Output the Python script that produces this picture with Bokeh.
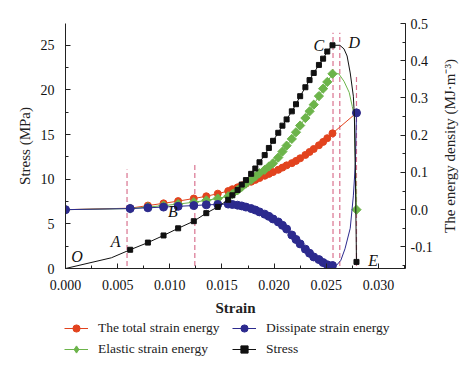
import math
from bokeh.plotting import figure
from bokeh.layouts import column, row
from bokeh.models import (Range1d, LinearAxis, Legend, LegendItem, Title,
                          SingleIntervalTicker, PrintfTickFormatter)
from bokeh.core.properties import value
from bokeh.embed import file_html
from bokeh.resources import INLINE

# ---------------- data ----------------
strain = [0.0062, 0.0079, 0.0094, 0.0108, 0.0123, 0.0135, 0.0146, 0.0156,
          0.0160, 0.0165, 0.0169, 0.0173, 0.0178, 0.0182, 0.0186, 0.0191,
          0.0195, 0.0199, 0.0204, 0.0208, 0.0212, 0.0217, 0.0221, 0.0225,
          0.0230, 0.0234, 0.0238, 0.0243, 0.0247, 0.0251, 0.0256]
stress = [2.1, 2.9, 3.7, 4.5, 5.3, 6.2, 6.9, 7.7,
          8.2, 8.8, 9.4, 9.9, 10.6, 11.2, 11.9, 12.7,
          13.5, 14.3, 15.2, 16.0, 16.7, 17.6, 18.4, 19.3,
          20.3, 21.1, 21.9, 22.8, 23.5, 24.3, 25.0]
total_energy = [0.004, 0.011, 0.017, 0.023, 0.030, 0.036, 0.043, 0.050,
                0.055, 0.060, 0.065, 0.070, 0.075, 0.080, 0.085, 0.091,
                0.096, 0.101, 0.107, 0.113, 0.119, 0.125, 0.131, 0.138,
                0.147, 0.155, 0.163, 0.173, 0.182, 0.192, 0.205]
elastic_energy = [0.003, 0.007, 0.011, 0.015, 0.020, 0.025, 0.030, 0.036,
                  0.042, 0.052, 0.061, 0.070, 0.080, 0.089, 0.098, 0.107,
                  0.116, 0.125, 0.140, 0.156, 0.172, 0.190, 0.208, 0.226,
                  0.246, 0.264, 0.282, 0.305, 0.325, 0.343, 0.365]
dissipated_energy = [0.003, 0.005, 0.007, 0.009, 0.011, 0.013, 0.014, 0.015,
                     0.014, 0.012, 0.010, 0.007, 0.003, -0.001, -0.006, -0.012,
                     -0.018, -0.025, -0.033, -0.042, -0.052, -0.068, -0.080, -0.092,
                     -0.106, -0.117, -0.127, -0.134, -0.142, -0.148, -0.150]

# initial (O-A) segment
stress_start_strain = [0.0, 0.0044]
stress_start = [0.0, 1.2]
energy_start_strain = [0.0]
energy_start = [0.0]

# post-peak branch (last point carries a marker)
stress_post_strain = [0.0263, 0.0267, 0.0270, 0.0273, 0.0276, 0.0277, 0.0278, 0.0279]
stress_post = [25.0, 24.6, 23.8, 21.9, 19.3, 17.0, 10.0, 0.74]
elastic_post_strain = [0.0262, 0.0267, 0.0272, 0.0275, 0.0277, 0.0278, 0.0279]
elastic_post = [0.365, 0.345, 0.315, 0.277, 0.25, 0.12, 0.0]
total_post_strain = [0.0279]
total_post = [0.26]
dissipated_post_strain = [0.0260, 0.0264, 0.0268, 0.0273, 0.0276, 0.0278, 0.0279]
dissipated_post = [-0.149, -0.136, -0.105, -0.05, 0.037, 0.126, 0.26]

# stage boundaries (dashed lines) and their top in stress units
stage_strain = [0.0059, 0.0124, 0.02565, 0.0263, 0.0279]
stage_top = [11.1, 11.7, 26.4, 26.4, 21.7]

point_labels = ["O", "A", "B", "C", "D", "E"]
point_label_strain = [0.0011, 0.0048, 0.0103, 0.0243, 0.0277, 0.0295]
point_label_stress = [1.4, 3.0, 6.4, 25.0, 25.3, 0.9]

legend_labels = ["The total strain energy", "Dissipate strain energy",
                 "Elastic strain energy", "Stress"]
energy_axis_label = "The energy density (MJ·m⁻³)"

# ---------------- figure ----------------
SERIF = "Liberation Serif"
RED = "#e2431e"
GREEN = "#6cb44a"
BLUE = "#2c2a8e"
BLACK = "#111111"
DASH = "#d9728f"

p = figure(width=439, height=318, output_backend="svg", toolbar_location=None,
           x_range=Range1d(0, 0.0326), y_range=Range1d(0, 27.44),
           min_border_left=65, min_border_right=34, min_border_top=23,
           min_border_bottom=48)
p.outline_line_color = None
p.xgrid.visible = False
p.ygrid.visible = False
p.extra_y_ranges = {"energy": Range1d(-0.158, 0.5)}


def style_axis(ax):
    ax.major_tick_in = 5
    ax.major_tick_out = 0
    ax.minor_tick_in = 3
    ax.minor_tick_out = 0
    ax.axis_line_color = "#222222"
    ax.major_tick_line_color = "#222222"
    ax.minor_tick_line_color = "#222222"
    ax.major_label_text_font = SERIF
    ax.major_label_text_font_size = "14px"
    ax.major_label_text_color = "#111111"
    ax.axis_label_text_font = SERIF
    ax.axis_label_text_font_size = "15px"
    ax.axis_label_text_font_style = "normal"
    ax.axis_label_text_color = "#222222"


xa = p.xaxis[0]
xa.ticker = SingleIntervalTicker(interval=0.005, num_minor_ticks=2)
xa.formatter = PrintfTickFormatter(format="%.3f")
xa.axis_label = "Strain"
style_axis(xa)
xa.axis_label_text_font_style = "bold"
xa.major_label_standoff = 11
xa.axis_label_standoff = 7

ya = p.yaxis[0]
ya.ticker = SingleIntervalTicker(interval=5, num_minor_ticks=2)
ya.axis_label = "Stress (MPa)"
style_axis(ya)
ya.major_label_standoff = 11
ya.axis_label_standoff = 5

ra = LinearAxis(y_range_name="energy",
                ticker=SingleIntervalTicker(interval=0.1, num_minor_ticks=2),
                formatter=PrintfTickFormatter(format="%.1f"))
style_axis(ra)
ra.major_label_standoff = 5
p.add_layout(ra, "right")

# dashed stage lines
p.segment(x0=stage_strain, y0=[-1.5] * len(stage_strain), x1=stage_strain, y1=stage_top,
          line_color=DASH, line_width=1.2, line_dash="5 3")

# total strain energy
p.line(energy_start_strain + strain + total_post_strain,
       energy_start + total_energy + total_post,
       line_color=RED, line_width=1, y_range_name="energy")
p.scatter(energy_start_strain + strain + total_post_strain,
          energy_start + total_energy + total_post, marker="circle", size=7,
          fill_color=RED, line_color=RED, y_range_name="energy")
# elastic strain energy
p.line(energy_start_strain + strain + elastic_post_strain,
       energy_start + elastic_energy + elastic_post,
       line_color=GREEN, line_width=1, y_range_name="energy")
p.scatter(energy_start_strain + strain + elastic_post_strain[-1:],
          energy_start + elastic_energy + elastic_post[-1:], marker="square", angle=math.pi / 4,
          size=6.5, fill_color=GREEN, line_color=GREEN, y_range_name="energy")
# dissipated strain energy
p.line(energy_start_strain + strain + dissipated_post_strain,
       energy_start + dissipated_energy + dissipated_post,
       line_color=BLUE, line_width=1, y_range_name="energy")
p.scatter(energy_start_strain + strain + dissipated_post_strain[-1:],
          energy_start + dissipated_energy + dissipated_post[-1:], marker="circle",
          size=8, fill_color=BLUE, line_color=BLUE, y_range_name="energy")
# stress
p.line(stress_start_strain + strain + stress_post_strain,
       stress_start + stress + stress_post, line_color=BLACK, line_width=1)
p.scatter(strain + stress_post_strain[-1:], stress + stress_post[-1:],
          marker="square", size=5, fill_color=BLACK, line_color=BLACK)

# stage point labels
p.text(x=point_label_strain, y=point_label_stress, text=point_labels,
       text_font=value(SERIF), text_font_style="italic", text_font_size="16px",
       text_color="#111111", text_align="center", text_baseline="middle")

# ---------------- right-hand axis title (reads bottom to top) ----------------
side = figure(width=30, height=318, output_backend="svg", toolbar_location=None,
              x_range=Range1d(0, 1), y_range=Range1d(0, 1),
              min_border_left=0, min_border_right=0, min_border_top=23,
              min_border_bottom=48, x_axis_location=None, y_axis_location=None)
side.outline_line_color = None
side.xgrid.visible = False
side.ygrid.visible = False
side.add_layout(Title(text=energy_axis_label, align="center", text_font=SERIF,
                      text_font_size="15px", text_font_style="normal",
                      text_color="#222222", standoff=0, offset=0), "left")

# ---------------- legend (separate strip below) ----------------
lg = figure(width=469, height=45, output_backend="svg", toolbar_location=None,
            x_range=Range1d(0, 1), y_range=Range1d(0, 1), min_border=0,
            x_axis_location=None, y_axis_location=None)
lg.outline_line_color = None
lg.xgrid.visible = False
lg.ygrid.visible = False
series_style = [
    (RED, "circle", 7),
    (BLUE, "circle", 8),
    (GREEN, "diamond", 10),
    (BLACK, "square", 5),
]
items = []
for lab, (col, mk, sz) in zip(legend_labels, series_style):
    rl = lg.line([-5, -4], [-5, -4], line_color=col, line_width=1)
    rm = lg.scatter([-5], [-5], marker=mk, size=sz, fill_color=col, line_color=col)
    items.append(LegendItem(label=lab, renderers=[rl, rm]))

legend = Legend(items=items, orientation="horizontal", ncols=2, location=(64, 5))
legend.label_text_font = SERIF
legend.label_text_font_size = "13.5px"
legend.label_text_color = "#222222"
legend.glyph_width = 24
legend.glyph_height = 18
legend.label_height = 18
legend.label_width = 131
legend.label_standoff = 10
legend.spacing = 3
legend.padding = 0
legend.margin = 0
legend.border_line_color = None
legend.background_fill_alpha = 0
lg.add_layout(legend)

layout = column(row(p, side, spacing=0), lg, spacing=0)
open("out.html", "w").write(file_html(layout, INLINE))
